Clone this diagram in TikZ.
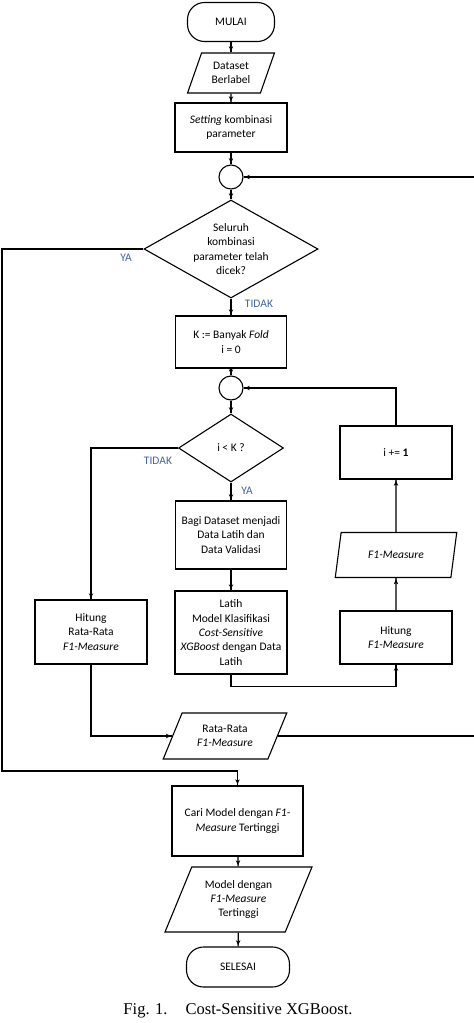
\documentclass[tikz,border=0pt]{standalone}
\usepackage{fontspec}
\setmainfont{Carlito}
\newfontfamily\capfont{Liberation Serif}
\usepackage{tikz}
\usetikzlibrary{arrows}
\usetikzlibrary{decorations.markings}
\usetikzlibrary{shapes.geometric}
\definecolor{lblue}{RGB}{70,100,160}
\tikzset{->/.style = {decoration={markings,
                                  mark=at position 1 with {\arrow[scale=1]{latex'}}},
                      postaction={decorate}}}
\tikzset{term/.style = {draw, rectangle, rounded corners=17pt, align=center}}
\tikzset{proc/.style = {draw, rectangle, align=center, inner sep=1pt}}
\tikzset{io/.style = {draw, trapezium, trapezium left angle=#1, trapezium right angle={180-#1},
                      trapezium stretches=true, align=center, inner sep=1pt}}
\tikzset{dec/.style = {draw, diamond, align=center, inner sep=0pt}}
\tikzset{junc/.style = {draw, circle, inner sep=0, minimum size=24}}
\tikzset{lbl/.style = {text=lblue, font=\fontsize{11.5}{14}\selectfont}}

\begin{document}
\begin{tikzpicture}[x=1pt, y=-1pt, line width=1.1pt, font=\fontsize{11.5}{14.4}\selectfont]
      \useasboundingbox (0, 0) rectangle (474, 1023);
      % main column
      \node [term, minimum width=87, minimum height=39] (mulai) at (231, 22) {MULAI};
      \node [io=68, minimum width=87, minimum height=40] (dataset) at (231, 73) {Dataset\\Berlabel};
      \node [proc, minimum width=112, minimum height=49] (setting) at (231, 127.5) {\textit{Setting} kombinasi\\parameter};
      \node [junc] (c1) at (231, 177) {};
      \node [dec, aspect=1.78, minimum width=174, minimum height=98] (cek) at (231, 249) {Seluruh\\kombinasi\\parameter telah\\dicek?};
      \node [proc, minimum width=111, minimum height=52] (kfold) at (231, 342) {K := Banyak \textit{Fold}\\i = 0};
      \node [junc] (c2) at (231, 388) {};
      \node [dec, aspect=1.54, minimum width=105, minimum height=68] (ik) at (231, 448) {i < K ?};
      \node [proc, minimum width=111, minimum height=68] (bagi) at (231, 535) {Bagi Dataset menjadi\\Data Latih dan\\Data Validasi};
      \node [proc, minimum width=112, minimum height=83] (latih) at (231, 632.5) {Latih\\Model Klasifikasi\\\textit{Cost-Sensitive}\\\textit{XGBoost} dengan Data\\Latih};
      % right column
      \node [proc, minimum width=112, minimum height=53] (hitungf1) at (396, 637.5) {Hitung\\\textit{F1-Measure}};
      \node [io=72, minimum width=122, minimum height=45] (f1) at (396, 555) {\textit{F1-Measure}};
      \node [proc, minimum width=112, minimum height=53] (inc) at (396, 452.5) {i += \textbf{1}};
      % left column
      \node [proc, minimum width=112, minimum height=64] (hitungrata) at (91, 632) {Hitung\\Rata-Rata\\\textit{F1-Measure}};
      \node [io=62, minimum width=124, minimum height=46] (rata) at (225, 736) {Rata-Rata\\\textit{F1-Measure}};
      % bottom
      \node [proc, minimum width=131, minimum height=70] (cari) at (237.5, 821) {Cari Model dengan \textit{F1-}\\\textit{Measure} Tertinggi};
      \node [io=64, minimum width=147, minimum height=65] (model) at (238.5, 899.5) {Model dengan\\\textit{F1-Measure}\\Tertinggi};
      \node [term, minimum width=103, minimum height=40] (selesai) at (238, 967) {SELESAI};
      \node [font=\capfont\fontsize{16.5}{18}\selectfont, inner sep=0] (caption) at (238, 1011) {Fig. 1.\hspace{1.1em}Cost-Sensitive XGBoost.};
      \coordinate (leftedge) at (2, 771);
      \coordinate (rightedge) at (480, 0);
      % connectors
      \draw [->] (mulai) -- (dataset);
      \draw [->] (dataset) -- (setting);
      \draw [->] (setting) -- (c1);
      \draw [->] (c1) -- (cek);
      \draw [->] (cek) -- (kfold);
      \draw [->] (kfold) -- (c2);
      \draw [->] (c2) -- (ik);
      \draw [->] (ik) -- (bagi);
      \draw [->] (bagi) -- (latih);
      \draw [->] (latih.south) -- ++(0, 12) -| (hitungf1.south);
      \draw [->] (hitungf1) -- (f1);
      \draw [->] (f1) -- (inc);
      \draw [->] (inc.north) |- (c2.east);
      \draw [->] (ik.west) -| (hitungrata.north);
      \draw [->] (hitungrata.south) |- (rata.west);
      \draw [->] (rata.east) -- (rata.east -| rightedge) |- (c1.east);
      \draw [->] (cek.west) -| (leftedge) -| (cari.north);
      \draw [->] (cari) -- (model);
      \draw [->] (model) -- (selesai);
      % labels
      \node [lbl] (ya1) at (126, 258) {YA};
      \node [lbl] (tidak1) at (259, 304) {TIDAK};
      \node [lbl] (tidak2) at (158, 461) {TIDAK};
      \node [lbl] (ya2) at (247, 491) {YA};
    \end{tikzpicture}
\end{document}
